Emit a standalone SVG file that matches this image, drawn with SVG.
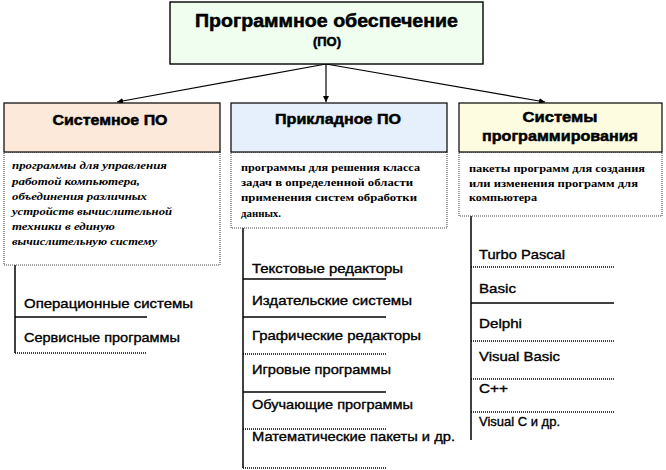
<svg xmlns="http://www.w3.org/2000/svg" width="666" height="470" viewBox="0 0 666 470">
<style>
.hd{font-family:"Liberation Sans",Arial,sans-serif;font-weight:bold;fill:#000;stroke:#000;stroke-width:0.5;text-anchor:middle}
.bi{font-family:"Liberation Serif","Times New Roman",serif;font-weight:bold;font-style:italic;font-size:11px;fill:#000}
.bs{font-family:"Liberation Serif","Times New Roman",serif;font-weight:bold;font-size:11px;fill:#000}
.it{font-family:"Liberation Sans",Arial,sans-serif;font-size:13px;fill:#000;stroke:#000;stroke-width:0.35}
.hb{stroke:#000;stroke-width:1.2}
.body{fill:#fff;stroke:#444;stroke-width:1;stroke-dasharray:1 1}
.sol{stroke:#000;stroke-width:1.5;fill:none}
.dot{stroke:#000;stroke-width:1.5;stroke-dasharray:1 1;fill:none}
.con{stroke:#000;stroke-width:1.2;fill:none}
</style>
<defs>
<marker id="ah" viewBox="0 0 6 6" refX="6" refY="3" markerWidth="5" markerHeight="5" orient="auto">
<path d="M0,0 L6,3 L0,6 z" fill="#000"/>
</marker>
</defs>
<g id="connectors">
<line class="con" x1="326" y1="64" x2="117" y2="102" marker-end="url(#ah)"/>
<line class="con" x1="326" y1="64" x2="326" y2="102" marker-end="url(#ah)"/>
<line class="con" x1="326" y1="64" x2="545" y2="102" marker-end="url(#ah)"/>
<line class="sol" x1="15" y1="265" x2="15" y2="353"/>
<line class="sol" x1="243" y1="228" x2="243" y2="468"/>
<line class="sol" x1="471" y1="216" x2="471" y2="440"/>
</g>
<g id="root">
<rect x="170" y="2" width="313" height="62" fill="#effeef" stroke="#000" stroke-width="1.4"/>
<text class="hd" x="326.5" y="27" font-size="18" textLength="263" lengthAdjust="spacingAndGlyphs">Программное обеспечение</text>
<text class="hd" x="327" y="46" font-size="13">(ПО)</text>
</g>
<g id="system">
<rect x="4" y="152" width="216" height="113" class="body"/>
<rect x="4" y="103" width="216" height="49" fill="#fde9d9" class="hb"/>
<text class="hd" x="110" y="125" font-size="15" textLength="115" lengthAdjust="spacingAndGlyphs">Системное ПО</text>
<text class="bi" x="12" y="169" textLength="155" lengthAdjust="spacingAndGlyphs">программы для управления</text>
<text class="bi" x="12" y="184.5" textLength="128" lengthAdjust="spacingAndGlyphs">работой компьютера,</text>
<text class="bi" x="12" y="199.5" textLength="135" lengthAdjust="spacingAndGlyphs">объединения различных</text>
<text class="bi" x="12" y="214.5" textLength="160" lengthAdjust="spacingAndGlyphs">устройств вычислительной</text>
<text class="bi" x="12" y="229.5" textLength="103" lengthAdjust="spacingAndGlyphs">техники в единую</text>
<text class="bi" x="12" y="245" textLength="145" lengthAdjust="spacingAndGlyphs">вычислительную  систему</text>
</g>
<g id="applied">
<rect x="231" y="152" width="216" height="76" class="body"/>
<rect x="231" y="103" width="216" height="49" fill="#e6f0fd" class="hb"/>
<text class="hd" x="338" y="124" font-size="15" textLength="126" lengthAdjust="spacingAndGlyphs">Прикладное ПО</text>
<text class="bs" x="241" y="171" textLength="179" lengthAdjust="spacingAndGlyphs">программы для решения класса</text>
<text class="bs" x="241" y="186" textLength="172" lengthAdjust="spacingAndGlyphs">задач в определенной области</text>
<text class="bs" x="241" y="201" textLength="176" lengthAdjust="spacingAndGlyphs">применения систем обработки</text>
<text class="bs" x="241" y="217" textLength="40" lengthAdjust="spacingAndGlyphs">данных.</text>
</g>
<g id="programming">
<rect x="459" y="152" width="203" height="64" class="body"/>
<rect x="459" y="103" width="203" height="49" fill="#fdfce1" class="hb"/>
<text class="hd" x="560" y="122" font-size="15" textLength="75" lengthAdjust="spacingAndGlyphs">Системы</text>
<text class="hd" x="560" y="141" font-size="15" textLength="156" lengthAdjust="spacingAndGlyphs">программирования</text>
<text class="bs" x="469" y="172" textLength="176" lengthAdjust="spacingAndGlyphs">пакеты программ для создания</text>
<text class="bs" x="469" y="187" textLength="169" lengthAdjust="spacingAndGlyphs">или изменения программ для</text>
<text class="bs" x="469" y="201" textLength="68" lengthAdjust="spacingAndGlyphs">компьютера</text>
</g>
<g id="sys-items">
<text class="it" x="24" y="308" textLength="169" lengthAdjust="spacingAndGlyphs">Операционные системы</text>
<line class="sol" x1="15" y1="317" x2="147" y2="317"/>
<text class="it" x="24" y="342" textLength="156" lengthAdjust="spacingAndGlyphs">Сервисные программы</text>
<line class="dot" x1="15" y1="353" x2="147" y2="353"/>
</g>
<g id="app-items">
<text class="it" x="252" y="273" textLength="151" lengthAdjust="spacingAndGlyphs">Текстовые редакторы</text>
<line class="sol" x1="243" y1="279" x2="386" y2="279"/>
<text class="it" x="252" y="305" textLength="160" lengthAdjust="spacingAndGlyphs">Издательские системы</text>
<line class="sol" x1="243" y1="317" x2="386" y2="317"/>
<text class="it" x="252" y="340" textLength="169" lengthAdjust="spacingAndGlyphs">Графические редакторы</text>
<line class="dot" x1="243" y1="354" x2="386" y2="354"/>
<text class="it" x="252" y="374" textLength="139" lengthAdjust="spacingAndGlyphs">Игровые программы</text>
<line class="sol" x1="243" y1="392" x2="386" y2="392"/>
<text class="it" x="252" y="409" textLength="161" lengthAdjust="spacingAndGlyphs">Обучающие программы</text>
<line class="dot" x1="243" y1="429" x2="386" y2="429"/>
<text class="it" x="252" y="441" textLength="203" lengthAdjust="spacingAndGlyphs">Математические пакеты и др.</text>
<line class="dot" x1="243" y1="468" x2="386" y2="468"/>
</g>
<g id="prog-items">
<text class="it" x="479" y="259" textLength="86" lengthAdjust="spacingAndGlyphs">Turbo Pascal</text>
<line class="dot" x1="471" y1="267" x2="614" y2="267"/>
<text class="it" x="479" y="293" textLength="37" lengthAdjust="spacingAndGlyphs">Basic</text>
<line class="sol" x1="471" y1="303" x2="614" y2="303"/>
<text class="it" x="479" y="328" textLength="43" lengthAdjust="spacingAndGlyphs">Delphi</text>
<line class="dot" x1="471" y1="341" x2="614" y2="341"/>
<text class="it" x="479" y="361" textLength="81" lengthAdjust="spacingAndGlyphs">Visual Basic</text>
<line class="dot" x1="471" y1="379" x2="614" y2="379"/>
<text class="it" x="479" y="393" textLength="29" lengthAdjust="spacingAndGlyphs">C++</text>
<line class="dot" x1="471" y1="412" x2="614" y2="412"/>
<text class="it" x="479" y="426" textLength="81" lengthAdjust="spacingAndGlyphs">Visual C и др.</text>
</g>
</svg>
